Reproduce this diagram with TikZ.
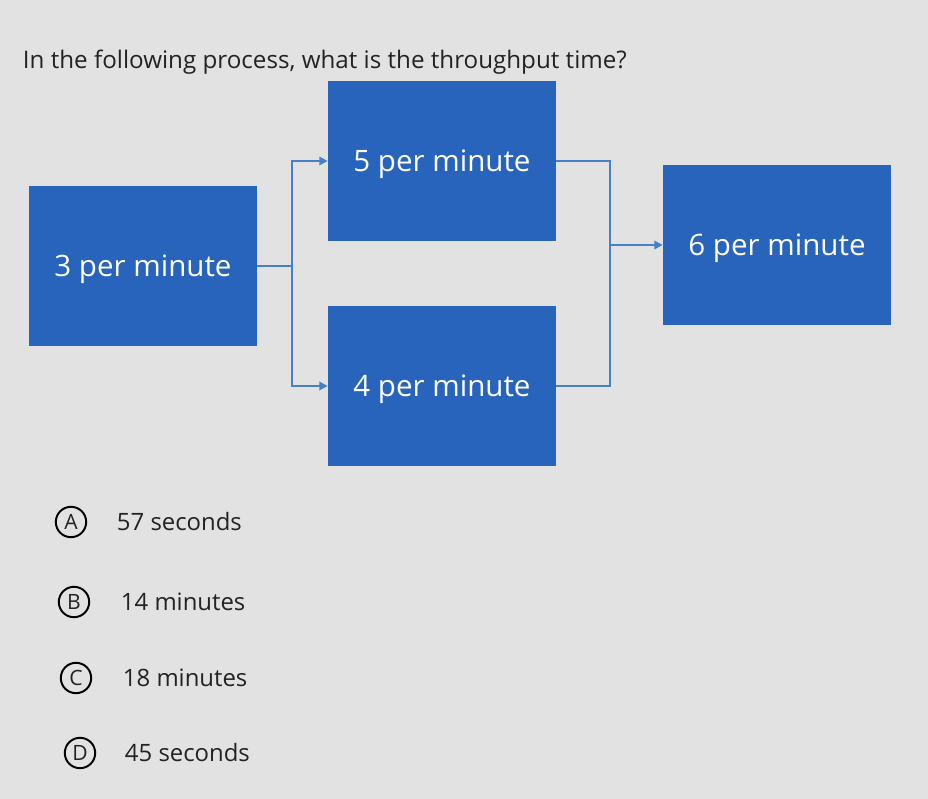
\documentclass[tikz,border=0pt]{standalone}
\usepackage{fontspec}
\setmainfont{Open Sans}
\usepackage{tikz}
\usetikzlibrary{arrows.meta}

\definecolor{boxblue}{RGB}{40,100,188}
\definecolor{lineblue}{RGB}{70,128,200}
\definecolor{bggray}{RGB}{226,226,226}
\definecolor{textgray}{RGB}{35,35,35}

\tikzset{
    procbox/.style={fill=boxblue, text=white, minimum width=5.7cm, minimum height=4cm,
        inner sep=0pt, text depth=0pt, font=\fontsize{21}{24}\selectfont},
    flow/.style={draw=lineblue, line width=1.8pt},
    choice/.style={circle, draw=black, line width=1.4pt, minimum size=0.76cm, inner sep=0pt,
        text=textgray, font=\fontsize{15}{17}\selectfont},
    answer/.style={anchor=west, text=textgray, font=\fontsize{17}{20}\selectfont}
}

\begin{document}
\begin{tikzpicture}[x=0.025cm, y=-0.025cm]
            \fill [bggray] (0,0) rectangle (928,799);
            \useasboundingbox (0,0) rectangle (928,799);

            \node [anchor=west, text=textgray, font=\fontsize{17.2}{20}\selectfont] (question) at (18,62)
                {In the following process, what is the throughput time?};

            \node [procbox] (three) at (143,266) {3 per minute};
            \node [procbox] (five) at (442,161) {5 per minute};
            \node [procbox] (four) at (442,386) {4 per minute};
            \node [procbox] (six) at (777,245) {6 per minute};

            \coordinate (split) at (292,266);
            \coordinate (merge) at (610,245);

            \draw [flow] (three.east) -- (split);
            \draw [flow, -{Triangle[length=6pt, width=6pt]}] (split) |- (five.west);
            \draw [flow, -{Triangle[length=6pt, width=6pt]}] (split) |- (four.west);
            \draw [flow] (five.east) -| (merge);
            \draw [flow] (four.east) -| (merge);
            \draw [flow, -{Triangle[length=6pt, width=6pt]}] (merge) -- (six.west);

            \node [choice] (a) at (71,522) {A};
            \node [answer] (ans a) at (112,522) {57 seconds};
            \node [choice] (b) at (74,602) {B};
            \node [answer] (ans b) at (116,602) {14 minutes};
            \node [choice] (c) at (76,678) {C};
            \node [answer] (ans c) at (118,678) {18 minutes};
            \node [choice] (d) at (80,753) {D};
            \node [answer] (ans d) at (120,753) {45 seconds};
        \end{tikzpicture}
\end{document}
